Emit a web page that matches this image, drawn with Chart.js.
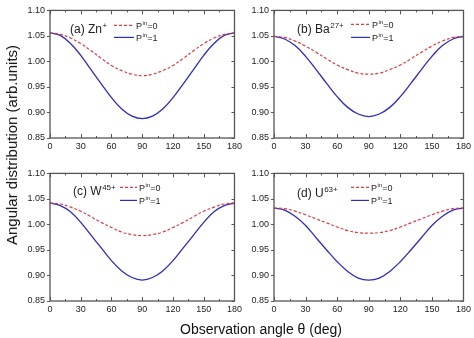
<!DOCTYPE html>
<html>
<head>
<meta charset="utf-8">
<script src="https://cdn.jsdelivr.net/npm/chart.js@4/dist/chart.umd.min.js"></script>
<style>
  body { margin: 0; background: #fff; width: 474px; height: 338px; overflow: hidden; position: relative;
         font-family: "Liberation Sans", Arial, sans-serif; }
  canvas { position: absolute; }
  .ytitle { position: absolute; left: 12px; top: 145px; transform: translate(-50%, -50%) rotate(-90deg);
            font-size: 15px; line-height: 16px; white-space: nowrap; color: #111; }
  .xtitle { position: absolute; left: 261px; top: 321px; transform: translateX(-50%);
            font-size: 14px; line-height: 16px; white-space: nowrap; color: #111; }
</style>
</head>
<body>
<canvas id="pa" width="245" height="160" style="left:0;top:0"></canvas>
<canvas id="pb" width="237" height="160" style="left:237px;top:0"></canvas>
<canvas id="pc" width="245" height="160" style="left:0;top:163px"></canvas>
<canvas id="pd" width="237" height="160" style="left:237px;top:163px"></canvas>
<div class="ytitle">Angular distribution (arb.units)</div>
<div class="xtitle">Observation angle θ (deg)</div>
<script>
// observation angle (deg)
const ANGLES = [0, 10, 20, 30, 40, 50, 60, 70, 80, 90, 100, 110, 120, 130, 140, 150, 160, 170, 180];
const X_MAJOR = [0, 30, 60, 90, 120, 150, 180];
const X_MINOR = [15, 45, 75, 105, 135, 165];
const Y_MAJOR = [0.85, 0.90, 0.95, 1.00, 1.05, 1.10];

// (a) Zn+
const ZN_P0 = [1.056, 1.053, 1.046, 1.035, 1.021, 1.006, 0.992, 0.982, 0.975, 0.972, 0.975, 0.982, 0.992, 1.006, 1.021, 1.035, 1.046, 1.053, 1.056];
const ZN_P1 = [1.056, 1.051, 1.035, 1.012, 0.984, 0.956, 0.929, 0.907, 0.893, 0.888, 0.893, 0.907, 0.929, 0.956, 0.984, 1.012, 1.035, 1.051, 1.056];
// (b) Ba27+
const BA_P0 = [1.049, 1.047, 1.040, 1.030, 1.018, 1.005, 0.993, 0.984, 0.977, 0.975, 0.977, 0.984, 0.993, 1.005, 1.018, 1.030, 1.040, 1.047, 1.049];
const BA_P1 = [1.049, 1.044, 1.031, 1.010, 0.984, 0.957, 0.931, 0.910, 0.897, 0.892, 0.897, 0.910, 0.931, 0.957, 0.984, 1.010, 1.031, 1.044, 1.049];
// (c) W45+
const W_P0 = [1.042, 1.040, 1.034, 1.026, 1.015, 1.004, 0.994, 0.985, 0.980, 0.978, 0.980, 0.985, 0.994, 1.004, 1.015, 1.026, 1.034, 1.040, 1.042];
const W_P1 = [1.042, 1.037, 1.025, 1.004, 0.979, 0.954, 0.929, 0.909, 0.896, 0.891, 0.896, 0.909, 0.929, 0.954, 0.979, 1.004, 1.025, 1.037, 1.042];
// (d) U63+
const U_P0 = [1.032, 1.031, 1.026, 1.019, 1.011, 1.003, 0.995, 0.988, 0.984, 0.983, 0.984, 0.988, 0.995, 1.003, 1.011, 1.019, 1.026, 1.031, 1.032];
const U_P1 = [1.032, 1.028, 1.016, 0.998, 0.974, 0.950, 0.927, 0.908, 0.895, 0.891, 0.895, 0.908, 0.927, 0.950, 0.974, 0.998, 1.016, 1.028, 1.032];

const RED = '#e23a3f';
const BLUE = '#2c2ccc';
const AXIS_COLOR = '#555';
const TEXT_COLOR = '#222';
const FONT = '"Liberation Sans", Arial, sans-serif';

const PANELS = [
  { canvas: 'pa', tag: '(a) Zn', sup: '+',   p0: ZN_P0, p1: ZN_P1,
    pad: { left: 0, top: 4, right: 6, bottom: 0 }, yw: 50,
    label: { dx: 20, dy: 23 }, legend: { x0: 64, x1: 84, tx: 86, r1: 15, r2: 27 } },
  { canvas: 'pb', tag: '(b) Ba', sup: '27+', p0: BA_P0, p1: BA_P1,
    pad: { left: 0, top: 4, right: 8, bottom: 0 }, yw: 37,
    label: { dx: 23, dy: 23 }, legend: { x0: 77, x1: 96, tx: 98, r1: 14, r2: 27 } },
  { canvas: 'pc', tag: '(c) W',  sup: '45+', p0: W_P0,  p1: W_P1,
    pad: { left: 0, top: 4, right: 6, bottom: 0 }, yw: 50,
    label: { dx: 23, dy: 22 }, legend: { x0: 70, x1: 87, tx: 89, r1: 14, r2: 27 } },
  { canvas: 'pd', tag: '(d) U',  sup: '63+', p0: U_P0,  p1: U_P1,
    pad: { left: 0, top: 4, right: 8, bottom: 0 }, yw: 37,
    label: { dx: 23, dy: 24 }, legend: { x0: 77, x1: 95, tx: 97, r1: 14, r2: 27 } },
];

// text with a raised superscript part, returns the end x
function supText(ctx, x, y, base, sup, size, supSize, rise) {
  ctx.font = size + 'px ' + FONT;
  ctx.fillText(base, x, y);
  x += ctx.measureText(base).width;
  ctx.font = supSize + 'px ' + FONT;
  ctx.fillText(sup, x + 0.5, y - rise);
  return x + 0.5 + ctx.measureText(sup).width;
}

const panelDeco = {
  id: 'panelDeco',
  afterDatasetsDraw(chart, args, opts) {
    const { ctx, chartArea: ca, scales: { x, y } } = chart;
    ctx.save();
    ctx.strokeStyle = AXIS_COLOR;
    ctx.lineWidth = 1;
    ctx.beginPath();
    X_MAJOR.forEach(v => {
      const px = Math.round(x.getPixelForValue(v)) + 0.5;
      ctx.moveTo(px, ca.bottom); ctx.lineTo(px, ca.bottom - 4);
      ctx.moveTo(px, ca.top); ctx.lineTo(px, ca.top + 4);
    });
    X_MINOR.forEach(v => {
      const px = Math.round(x.getPixelForValue(v)) + 0.5;
      ctx.moveTo(px, ca.bottom); ctx.lineTo(px, ca.bottom - 2);
      ctx.moveTo(px, ca.top); ctx.lineTo(px, ca.top + 2);
    });
    Y_MAJOR.forEach(v => {
      const py = Math.round(y.getPixelForValue(v)) + 0.5;
      ctx.moveTo(ca.left - 3, py); ctx.lineTo(ca.left, py);
      ctx.moveTo(ca.right, py); ctx.lineTo(ca.right - 3, py);
    });
    ctx.stroke();
    ctx.lineWidth = 1.3;
    ctx.strokeRect(ca.left, ca.top, ca.right - ca.left, ca.bottom - ca.top);

    // panel tag
    ctx.fillStyle = TEXT_COLOR;
    ctx.textBaseline = 'alphabetic';
    supText(ctx, ca.left + opts.label.dx, ca.top + opts.label.dy, opts.tag, opts.sup, 12, 8, 5);

    // legend
    const lg = opts.legend;
    ctx.lineWidth = 1.2;
    ctx.strokeStyle = RED;
    ctx.setLineDash([3, 2]);
    ctx.beginPath();
    ctx.moveTo(ca.left + lg.x0, ca.top + lg.r1); ctx.lineTo(ca.left + lg.x1, ca.top + lg.r1);
    ctx.stroke();
    ctx.setLineDash([]);
    ctx.strokeStyle = BLUE;
    ctx.beginPath();
    ctx.moveTo(ca.left + lg.x0, ca.top + lg.r2); ctx.lineTo(ca.left + lg.x1, ca.top + lg.r2);
    ctx.stroke();
    [[lg.r1, '=0'], [lg.r2, '=1']].forEach(([r, tail]) => {
      let tx = supText(ctx, ca.left + lg.tx, ca.top + r + 3.5, 'P', 'in', 9, 6, 3.5);
      ctx.font = '9px ' + FONT;
      ctx.fillText(tail, tx, ca.top + r + 3.5);
    });
    ctx.restore();
  }
};

PANELS.forEach(p => {
  new Chart(document.getElementById(p.canvas), {
    type: 'line',
    data: {
      datasets: [
        { label: 'Pin=0', data: ANGLES.map((a, i) => ({ x: a, y: p.p0[i] })),
          borderColor: RED, borderWidth: 1.2, borderDash: [3, 2], pointRadius: 0,
          tension: 0.4, fill: false },
        { label: 'Pin=1', data: ANGLES.map((a, i) => ({ x: a, y: p.p1[i] })),
          borderColor: BLUE, borderWidth: 1.3, pointRadius: 0,
          tension: 0.4, fill: false },
      ],
    },
    options: {
      responsive: false,
      animation: false,
      layout: { padding: p.pad },
      plugins: {
        legend: { display: false },
        tooltip: { enabled: false },
        panelDeco: { tag: p.tag, sup: p.sup, label: p.label, legend: p.legend },
      },
      scales: {
        x: {
          type: 'linear', min: 0, max: 180,
          grid: { display: false, drawTicks: false, tickLength: 0 },
          border: { display: false },
          ticks: { stepSize: 30, color: TEXT_COLOR, padding: 3, maxRotation: 0,
                   font: { family: FONT, size: 9 } },
          afterFit: s => { s.height = 22; },
        },
        y: {
          min: 0.85, max: 1.10,
          grid: { display: false, drawTicks: false, tickLength: 0 },
          border: { display: false },
          ticks: { stepSize: 0.05, color: TEXT_COLOR, padding: 5,
                   font: { family: FONT, size: 9 }, callback: v => v.toFixed(2) },
          afterFit: s => { s.width = p.yw; },
        },
      },
    },
    plugins: [panelDeco],
  });
});
</script>
</body>
</html>
